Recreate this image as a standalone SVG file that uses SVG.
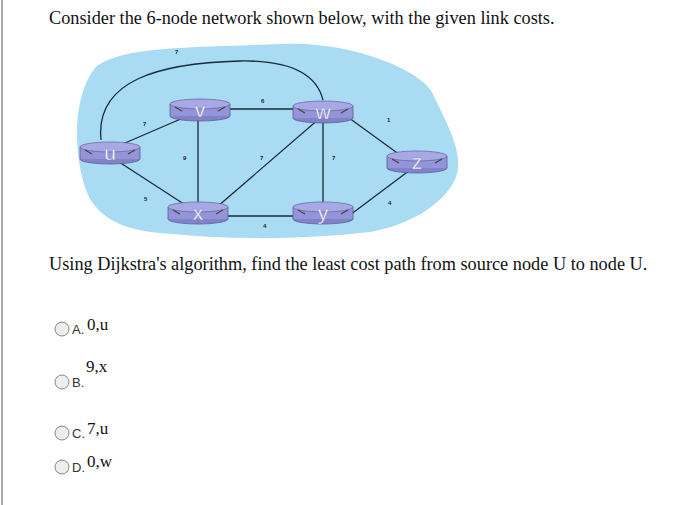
<svg xmlns="http://www.w3.org/2000/svg" width="700" height="505" viewBox="0 0 700 505">
<defs>
<style>
.serif{font-family:"Liberation Serif",serif;fill:#111}
.sans{font-family:"Liberation Sans",sans-serif;fill:#333;font-size:13px}
.lbl{font-family:"Liberation Sans",sans-serif;font-size:6px;fill:#222;font-weight:bold}
.nl{font-family:"Liberation Sans",sans-serif;font-size:21px;fill:#fff;text-anchor:middle;stroke:#7a7ac0;stroke-width:0.4}
.edge{stroke:#1a2a3a;stroke-width:1.3;fill:none}
.radio{fill:#eee;stroke:#888;stroke-width:1}
</style>
<g id="router">
<ellipse cx="0" cy="6" rx="30" ry="5" fill="#8282c8" stroke="#5a5a98" stroke-width="0.8"/>
<rect x="-30" y="-6" width="60" height="12" fill="#9494d8"/>
<path d="M-30 -6 V6 M30 -6 V6" stroke="#5a5a98" stroke-width="0.8"/>
<ellipse cx="0" cy="-6" rx="30" ry="5" fill="#a8a8e4" stroke="#6a6aa8" stroke-width="0.8"/>
<path d="M-25 -3 l7 4 M25 -3 l-7 4" stroke="#444" stroke-width="1.2"/>
</g>
</defs>
<rect width="700" height="505" fill="#fff"/>
<line x1="2" y1="0" x2="2" y2="505" stroke="#aaa" stroke-width="2"/>
<text x="49" y="24" class="serif" font-size="18.3">Consider the 6-node network shown below, with the given link costs.</text>
<path d="M95 68 C120 45 200 48 280 44 C350 40 420 70 432 92 C450 130 468 160 452 185 C440 205 410 225 370 232 C300 240 230 240 160 233 C120 230 95 215 86 190 C75 160 70 100 95 68 Z" fill="#a9dcf3"/>
<g id="connectors">
<path class="edge" d="M101 140 C95 80 160 63 240 61 C300 60 318 80 323 100"/>
<line class="edge" x1="118" y1="146" x2="190" y2="115"/>
<line class="edge" x1="116" y1="160" x2="190" y2="208"/>
<line class="edge" x1="230" y1="109" x2="293" y2="109"/>
<line class="edge" x1="198" y1="115" x2="198" y2="208"/>
<line class="edge" x1="210" y1="213" x2="320" y2="118"/>
<line class="edge" x1="228" y1="216" x2="293" y2="216"/>
<line class="edge" x1="323" y1="118" x2="323" y2="208"/>
<line class="edge" x1="345" y1="115" x2="400" y2="155"/>
<line class="edge" x1="350" y1="215" x2="410" y2="170"/>
</g>
<text class="lbl" x="175" y="54">7</text>
<text class="lbl" x="143" y="126">7</text>
<text class="lbl" x="261" y="103">6</text>
<text class="lbl" x="387" y="122">1</text>
<text class="lbl" x="183" y="160">9</text>
<text class="lbl" x="260" y="160">7</text>
<text class="lbl" x="332" y="160">7</text>
<text class="lbl" x="144" y="201">5</text>
<text class="lbl" x="263" y="228">4</text>
<text class="lbl" x="388" y="205">4</text>
<g id="node-u"><use href="#router" x="110" y="153"/><text class="nl" x="110" y="160">u</text></g>
<g id="node-v"><use href="#router" x="200" y="110"/><text class="nl" x="200" y="117">v</text></g>
<g id="node-w"><use href="#router" x="323" y="112"/><text class="nl" x="323" y="119">w</text></g>
<g id="node-z"><use href="#router" x="417" y="162"/><text class="nl" x="417" y="169">z</text></g>
<g id="node-x"><use href="#router" x="198" y="213"/><text class="nl" x="198" y="220">x</text></g>
<g id="node-y"><use href="#router" x="323" y="213"/><text class="nl" x="323" y="220">y</text></g>
<text x="49" y="270" class="serif" font-size="18.3">Using Dijkstra's algorithm, find the least cost path from source node U to  node U.</text>
<circle class="radio" cx="62" cy="329" r="7"/><text class="sans" x="72" y="334">A.</text><text class="serif" font-size="17" x="87" y="330">0,u</text>
<circle class="radio" cx="62" cy="382" r="7"/><text class="sans" x="72" y="387">B.</text><text class="serif" font-size="17" x="86" y="372">9,x</text>
<circle class="radio" cx="62" cy="433" r="7"/><text class="sans" x="72" y="438">C.</text><text class="serif" font-size="17" x="87" y="434">7,u</text>
<circle class="radio" cx="62" cy="467" r="7"/><text class="sans" x="72" y="472">D.</text><text class="serif" font-size="17" x="87" y="467">0,w</text>
</svg>
